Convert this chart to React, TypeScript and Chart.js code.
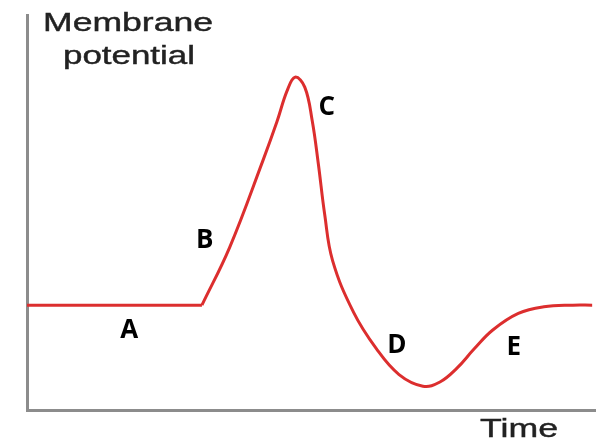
import React, { useEffect, useRef } from "react";
import { Chart, registerables } from "chart.js";

Chart.register(...registerables);

// Resting phase (flat line before depolarisation), time in arbitrary units, potential in mV
const restTime = [0, 30.8];
const restPotential = [-70, -70];

// Action potential: rise, peak, fall, undershoot, return to rest
const spikeTime = [30.8, 35.7, 41.5, 44.0, 45.8, 47.2, 48.9, 50.2, 51.3, 52.4, 53.8, 57.5, 61.5, 65.5, 69.7, 72.7, 75.7, 78.7, 82.0, 86.5, 91.0, 96.1, 99.5];
const spikePotential = [-70, -42, -0.5, 18.5, 33.5, 40, 35.2, 19.2, -2, -26, -48.5, -73.5, -91, -103.5, -109.1, -107.1, -100.4, -91.2, -82, -74, -70.8, -70, -70];

// Phase letters and their positions (time, potential)
const phaseLabels = ["A", "B", "C", "D", "E"];
const phaseTime = [18.0, 31.3, 52.8, 65.1, 85.7];
const phasePotential = [-81.1, -37.7, 26.5, -88.3, -89.3];

const yAxisTitle = ["Membrane", "potential"];
const xAxisTitle = "Time";

const RED = "#dc2e2e";
const AXIS = "#8c8c8c";
const TEXT = "#222222";

function drawStretched(ctx: CanvasRenderingContext2D, text: string, cx: number, baseline: number, width: number, font: string) {
  ctx.save();
  ctx.font = font;
  const w = ctx.measureText(text).width;
  const sx = width / w;
  ctx.translate(cx, baseline);
  ctx.scale(sx, 1);
  ctx.textAlign = "center";
  ctx.textBaseline = "alphabetic";
  ctx.lineWidth = 0.4;
  ctx.strokeStyle = TEXT;
  ctx.fillText(text, 0, 0);
  ctx.strokeText(text, 0, 0);
  ctx.restore();
}

const textPlugin = {
  id: "textPlugin",
  afterDraw(chart: any) {
    const ctx: CanvasRenderingContext2D = chart.ctx;
    const xs = chart.scales.x;
    const ys = chart.scales.y;
    ctx.save();
    ctx.fillStyle = TEXT;
    drawStretched(ctx, yAxisTitle[0], 128, 31, 170, "25px 'Liberation Sans', Arial, sans-serif");
    drawStretched(ctx, yAxisTitle[1], 129, 64, 132, "25px 'Liberation Sans', Arial, sans-serif");
    drawStretched(ctx, xAxisTitle, 519, 437, 78, "26px 'Liberation Sans', Arial, sans-serif");

    ctx.fillStyle = "#000";
    ctx.font = "bold 26px 'Open Sans', 'DejaVu Sans', sans-serif";
    ctx.textAlign = "center";
    ctx.textBaseline = "alphabetic";
    phaseLabels.forEach((lab, i) => {
      const px = xs.getPixelForValue(phaseTime[i]);
      const py = ys.getPixelForValue(phasePotential[i]);
      const m = ctx.measureText(lab);
      const off = (m.actualBoundingBoxAscent - m.actualBoundingBoxDescent) / 2;
      ctx.fillText(lab, px, py + off);
    });
    ctx.restore();
  },
};

export default function App() {
  const ref = useRef<HTMLCanvasElement | null>(null);
  useEffect(() => {
    if (!ref.current) return;
    const chart = new Chart(ref.current, {
      type: "line",
      data: {
        datasets: [
          {
            data: restTime.map((t, i) => ({ x: t, y: restPotential[i] })),
            borderColor: RED,
            borderWidth: 3,
            pointRadius: 0,
            tension: 0,
          },
          {
            data: spikeTime.map((t, i) => ({ x: t, y: spikePotential[i] })),
            borderColor: RED,
            borderWidth: 3,
            pointRadius: 0,
            tension: 0.4,
          },
        ],
      },
      options: {
        animation: false,
        responsive: false,
        maintainAspectRatio: false,
        layout: { padding: { left: 27, top: 15, right: 9, bottom: 38 } },
        plugins: { legend: { display: false }, tooltip: { enabled: false } },
        scales: {
          x: {
            type: "linear",
            min: 0,
            max: 100,
            grid: { display: false, drawTicks: false },
            border: { display: true, color: AXIS, width: 3 },
            ticks: { display: false, padding: 0 },
          },
          y: {
            type: "linear",
            min: -120.6,
            max: 70,
            grid: { display: false, drawTicks: false },
            border: { display: true, color: AXIS, width: 3 },
            ticks: { display: false, padding: 0 },
          },
        },
      },
      plugins: [textPlugin],
    } as any);
    return () => chart.destroy();
  }, []);
  return (
    <div style={{ position: "fixed", left: 0, top: 0, width: 604, height: 448, background: "#fff" }}>
      <canvas ref={ref} width={604} height={448} />
    </div>
  );
}
